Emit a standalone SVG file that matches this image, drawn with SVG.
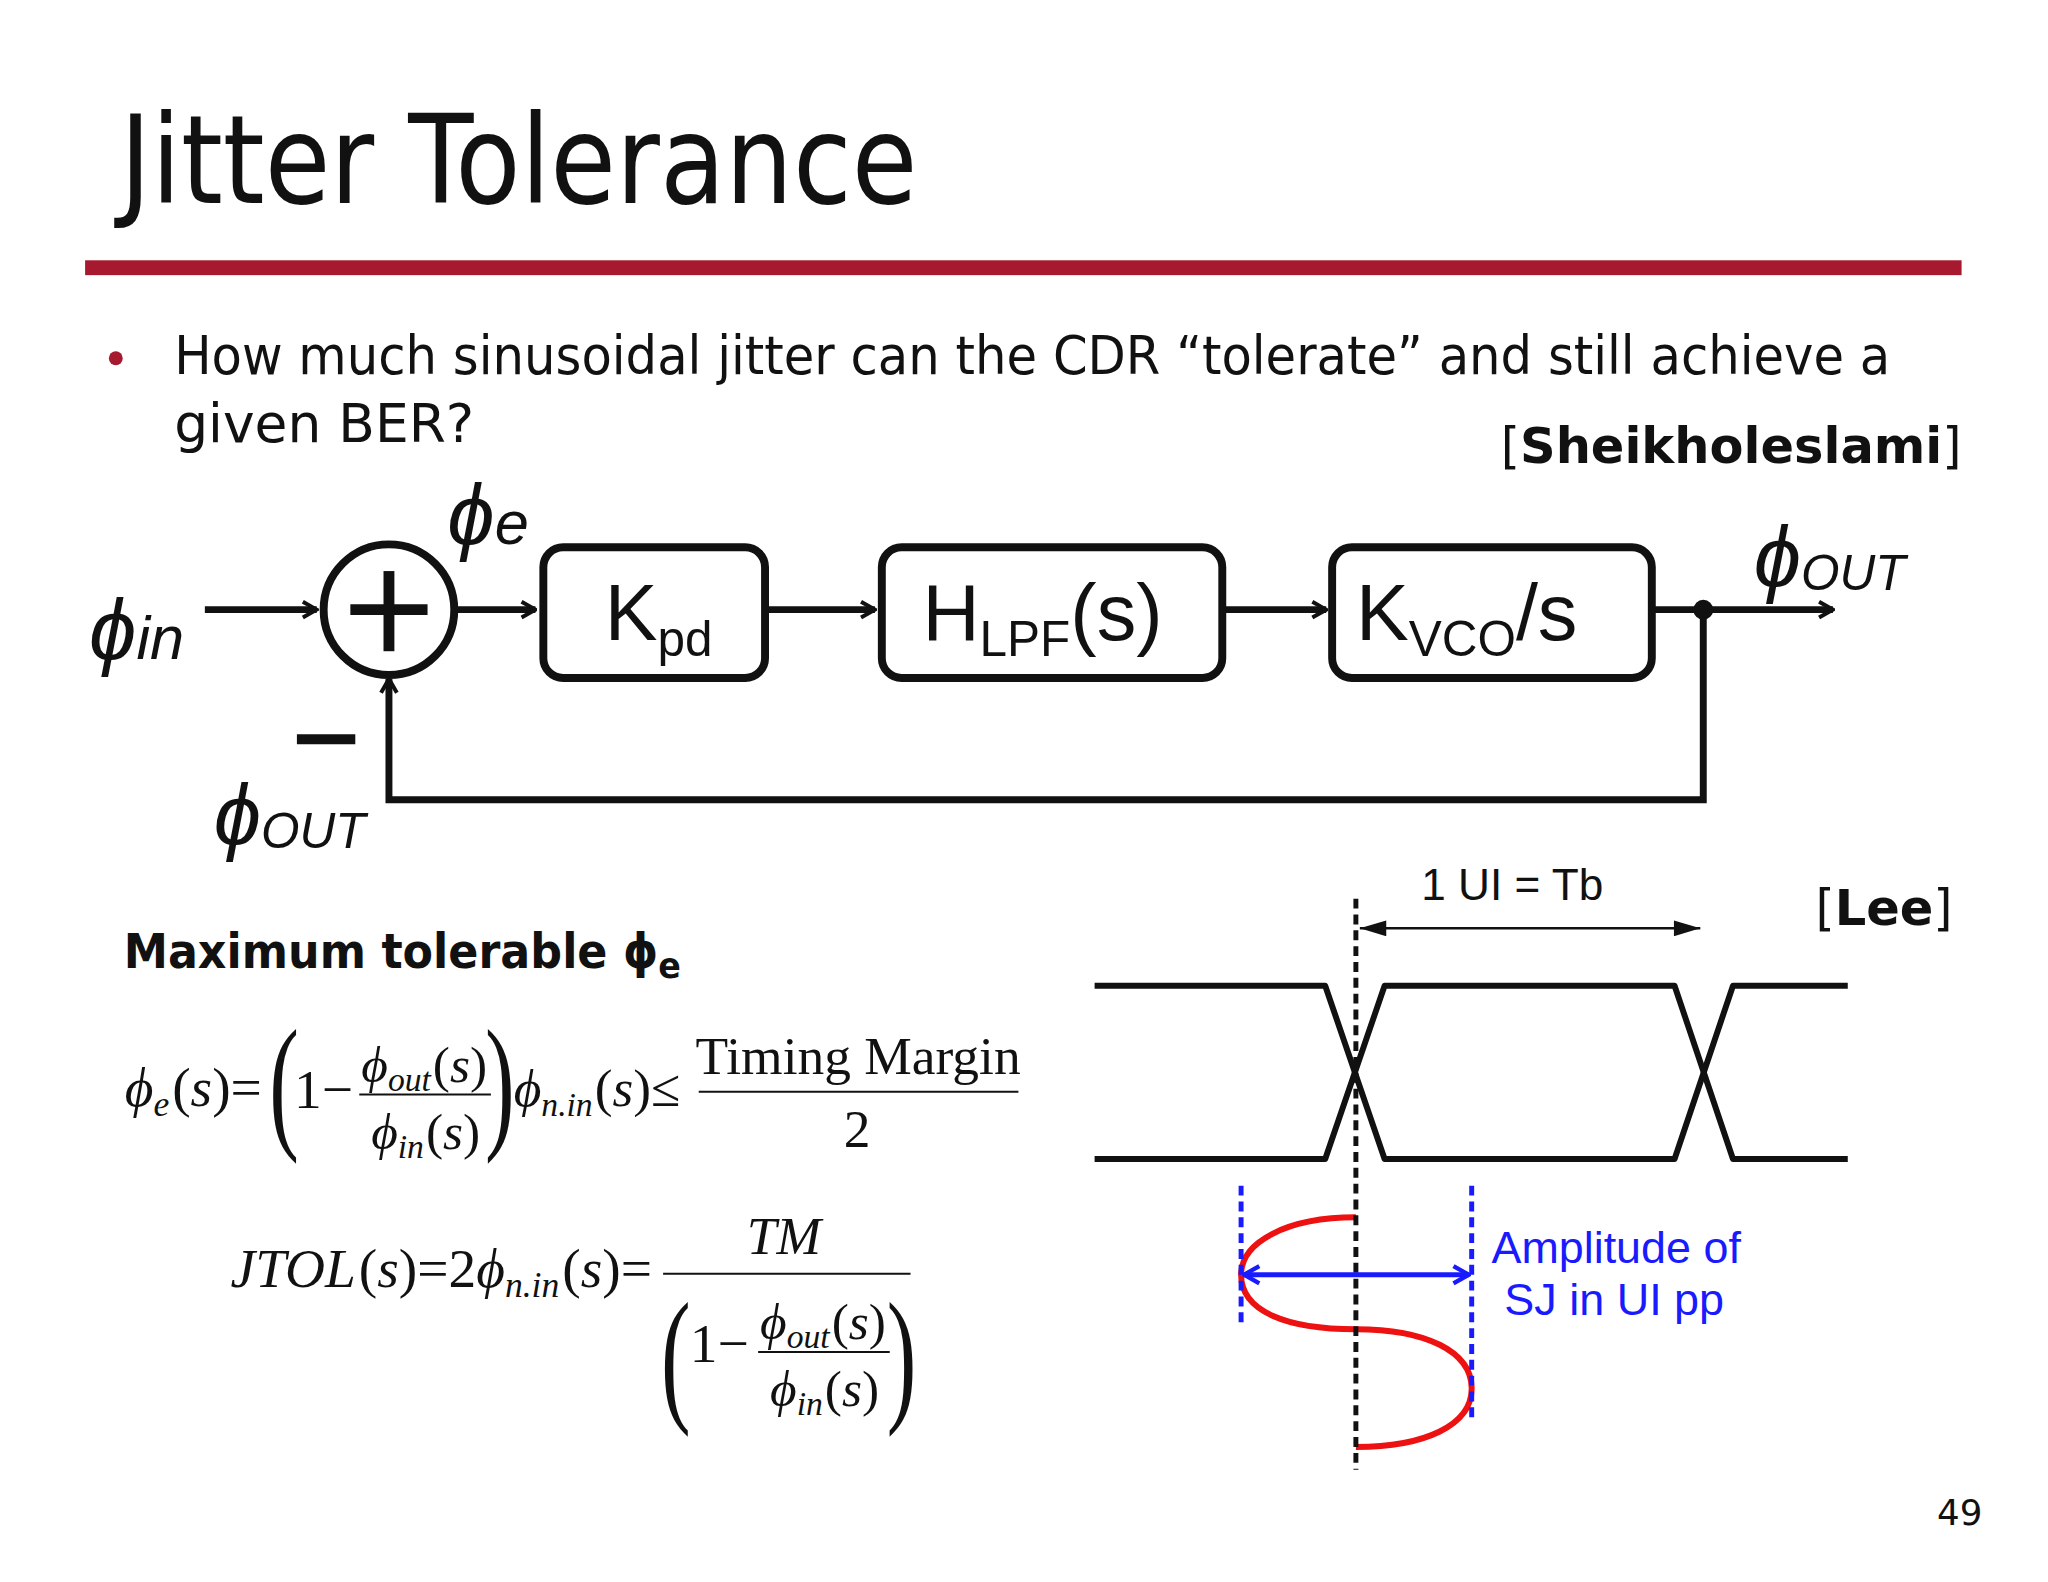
<svg xmlns="http://www.w3.org/2000/svg" width="2048" height="1582" viewBox="0 0 2048 1582">
<style>
.sans{font-family:"DejaVu Sans","Liberation Sans",sans-serif;fill:#111}
.ar{font-family:"Liberation Sans",Arial,sans-serif;fill:#111}
.it{font-family:"Liberation Sans",Arial,sans-serif;font-style:italic;fill:#111}
.tm{font-family:"Liberation Serif","Times New Roman",serif;fill:#111}
.i{font-style:italic}
.box{fill:#fff;stroke:#111;stroke-width:8}
.w{fill:none;stroke:#111;stroke-width:7}
.thin{fill:none;stroke:#111;stroke-width:2}
.blue{font-family:"Liberation Sans",Arial,sans-serif;fill:#1a1aff}
</style>
<defs>
<marker id="open" viewBox="0 0 20 20" refX="18" refY="10" markerWidth="20" markerHeight="20" markerUnits="userSpaceOnUse" orient="auto"><path d="M4,2 L18,10 L4,18" fill="none" stroke="#111" stroke-width="4"/></marker>
<marker id="openb" viewBox="0 0 20 20" refX="18" refY="10" markerWidth="22" markerHeight="22" markerUnits="userSpaceOnUse" orient="auto-start-reverse"><path d="M4,2 L18,10 L4,18" fill="none" stroke="#1a1aff" stroke-width="4"/></marker>
<marker id="tri" viewBox="0 0 20 12" refX="20" refY="6" markerWidth="28" markerHeight="16" markerUnits="userSpaceOnUse" orient="auto-start-reverse"><path d="M0,0 L20,6 L0,12 Z" fill="#111"/></marker>
</defs>
<rect width="2048" height="1582" fill="#fff"/>
<g transform="scale(0.9897)">
<text class="sans" x="121" y="205" font-size="124" textLength="806" lengthAdjust="spacingAndGlyphs">Jitter Tolerance</text>
<rect x="86" y="263" width="1896" height="15" fill="#A6192E"/>
<circle cx="117" cy="362" r="7" fill="#A6192E"/>
<text class="sans" x="176" y="378" font-size="54" textLength="1734" lengthAdjust="spacingAndGlyphs">How much sinusoidal jitter can the CDR “tolerate” and still achieve a</text>
<text class="sans" x="176" y="447" font-size="54">given BER?</text>
<text class="sans" x="1982" y="468" font-size="50" text-anchor="end">[<tspan font-weight="bold">Sheikholeslami</tspan>]</text>

<g id="connectors">
<line class="w" x1="207" y1="616" x2="320" y2="616" marker-end="url(#open)"/>
<line class="w" x1="460" y1="616" x2="541" y2="616" marker-end="url(#open)"/>
<line class="w" x1="773" y1="616" x2="884" y2="616" marker-end="url(#open)"/>
<line class="w" x1="1235" y1="616" x2="1340" y2="616" marker-end="url(#open)"/>
<line class="w" x1="1669" y1="616" x2="1852" y2="616" marker-end="url(#open)"/>
<polyline class="w" points="1721,616 1721,808 393,808 393,686" marker-end="url(#open)"/>
<circle cx="1721" cy="616" r="10" fill="#111"/>
</g>
<g id="sum">
<circle cx="393" cy="616" r="66" fill="#fff" stroke="#111" stroke-width="8"/>
<line x1="354" y1="616" x2="432" y2="616" stroke="#111" stroke-width="11"/>
<line x1="393" y1="577" x2="393" y2="658" stroke="#111" stroke-width="11"/>
</g>
<g id="kpd"><rect class="box" x="549" y="553" width="224" height="132" rx="20"/>
<text class="ar" x="611" y="647" font-size="80">K<tspan font-size="50" dy="16">pd</tspan></text></g>
<g id="hlpf"><rect class="box" x="891" y="553" width="344" height="132" rx="20"/>
<text class="ar" x="932" y="647" font-size="80">H<tspan font-size="50" dy="16">LPF</tspan><tspan dy="-16">(s)</tspan></text></g>
<g id="kvco"><rect class="box" x="1346" y="553" width="323" height="132" rx="20"/>
<text class="ar" x="1370" y="647" font-size="80">K<tspan font-size="50" dy="16">VCO</tspan><tspan dy="-16">/s</tspan></text></g>
<line x1="300" y1="747" x2="359" y2="747" stroke="#111" stroke-width="10"/>
<text class="it" x="90" y="666" font-size="86">ϕ<tspan font-size="62">in</tspan></text>
<text class="it" x="452" y="550" font-size="86">ϕ<tspan font-size="62">e</tspan></text>
<text class="it" x="1772" y="592" font-size="86">ϕ<tspan font-size="50" dy="4">OUT</tspan></text>
<text class="it" x="216" y="853" font-size="86">ϕ<tspan font-size="50" dy="4">OUT</tspan></text>

<text class="sans" x="125" y="978" font-size="48" font-weight="bold" textLength="563" lengthAdjust="spacingAndGlyphs">Maximum tolerable ϕ<tspan font-size="36" dy="10">e</tspan></text>

<g id="eq1">
<text class="tm" x="126" y="1118" font-size="56"><tspan class="i">ϕ</tspan><tspan class="i" font-size="36" dy="10">e</tspan><tspan dy="-10" dx="3">(</tspan><tspan class="i">s</tspan>)=</text>
<text class="tm" x="272" y="1144" font-size="150" transform="translate(272 1144) scale(0.6 1) translate(-272 -1144)">(</text>
<text class="tm" x="297" y="1120" font-size="56">1−</text>
<text class="tm" x="365" y="1093" font-size="52"><tspan class="i">ϕ</tspan><tspan class="i" font-size="34" dy="9">out</tspan><tspan dy="-9" dx="2">(</tspan><tspan class="i">s</tspan>)</text>
<line class="thin" x1="363" y1="1106" x2="496" y2="1106"/>
<text class="tm" x="375" y="1161" font-size="52"><tspan class="i">ϕ</tspan><tspan class="i" font-size="34" dy="9">in</tspan><tspan dy="-9" dx="2">(</tspan><tspan class="i">s</tspan>)</text>
<text class="tm" x="490" y="1144" font-size="150" transform="translate(490 1144) scale(0.6 1) translate(-490 -1144)">)</text>
<text class="tm" x="519" y="1118" font-size="54"><tspan class="i">ϕ</tspan><tspan class="i" font-size="34" dy="10">n.in</tspan><tspan dy="-10" dx="2">(</tspan><tspan class="i">s</tspan>)≤</text>
<text class="tm" x="867" y="1085" font-size="54" text-anchor="middle">Timing Margin</text>
<line class="thin" x1="706" y1="1103" x2="1029" y2="1103"/>
<text class="tm" x="866" y="1159" font-size="54" text-anchor="middle">2</text>
</g>
<g id="eq2">
<text class="tm" x="233" y="1300" font-size="56"><tspan class="i">JTOL</tspan><tspan dx="3">(</tspan><tspan class="i">s</tspan>)=2<tspan class="i">ϕ</tspan><tspan class="i" font-size="36" dy="10">n.in</tspan><tspan dy="-10" dx="3">(</tspan><tspan class="i">s</tspan>)=</text>
<text class="tm i" x="792" y="1267" font-size="54" text-anchor="middle">TM</text>
<line class="thin" x1="670" y1="1287" x2="920" y2="1287"/>
<text class="tm" x="668" y="1420" font-size="150" transform="translate(668 1420) scale(0.6 1) translate(-668 -1420)">(</text>
<text class="tm" x="697" y="1376" font-size="56">1−</text>
<text class="tm" x="768" y="1353" font-size="52"><tspan class="i">ϕ</tspan><tspan class="i" font-size="34" dy="9">out</tspan><tspan dy="-9" dx="2">(</tspan><tspan class="i">s</tspan>)</text>
<line class="thin" x1="766" y1="1366" x2="899" y2="1366"/>
<text class="tm" x="778" y="1421" font-size="52"><tspan class="i">ϕ</tspan><tspan class="i" font-size="34" dy="9">in</tspan><tspan dy="-9" dx="2">(</tspan><tspan class="i">s</tspan>)</text>
<text class="tm" x="896" y="1420" font-size="150" transform="translate(896 1420) scale(0.6 1) translate(-896 -1420)">)</text>
</g>

<g id="eye">
<text class="ar" x="1436" y="909" font-size="44" textLength="184" lengthAdjust="spacingAndGlyphs">1 UI = Tb</text>
<line x1="1374" y1="938" x2="1718" y2="938" stroke="#111" stroke-width="2.5" marker-start="url(#tri)" marker-end="url(#tri)"/>
<text class="sans" x="1973" y="935" font-size="50" text-anchor="end">[<tspan font-weight="bold">Lee</tspan>]</text>
<polyline fill="none" stroke="#111" stroke-width="6" stroke-linejoin="round" points="1106,996 1339,996 1399,1171 1692,1171 1751,996 1867,996"/>
<polyline fill="none" stroke="#111" stroke-width="6" stroke-linejoin="round" points="1106,1171 1339,1171 1399,996 1692,996 1751,1171 1867,1171"/>
<path d="M1370,1230 C1300,1230 1254,1255 1254,1288 C1254,1325 1300,1343 1370,1343 C1440,1343 1487,1365 1487,1403 C1487,1440 1440,1462 1370,1462" fill="none" stroke="#ee1111" stroke-width="6"/>
<line x1="1370" y1="908" x2="1370" y2="1485" stroke="#111" stroke-width="5" stroke-dasharray="10,6"/>
<line x1="1254" y1="1198" x2="1254" y2="1336" stroke="#1a1aff" stroke-width="5" stroke-dasharray="10,6"/>
<line x1="1487" y1="1198" x2="1487" y2="1436" stroke="#1a1aff" stroke-width="5" stroke-dasharray="10,6"/>
<line x1="1257" y1="1288" x2="1484" y2="1288" stroke="#1a1aff" stroke-width="5" marker-start="url(#openb)" marker-end="url(#openb)"/>
<text class="blue" x="1507" y="1276" font-size="44" textLength="252" lengthAdjust="spacingAndGlyphs">Amplitude of</text>
<text class="blue" x="1520" y="1329" font-size="44" textLength="222" lengthAdjust="spacingAndGlyphs">SJ in UI pp</text>
</g>
<text class="sans" x="2003" y="1541" font-size="36" text-anchor="end">49</text>
</g>
</svg>
